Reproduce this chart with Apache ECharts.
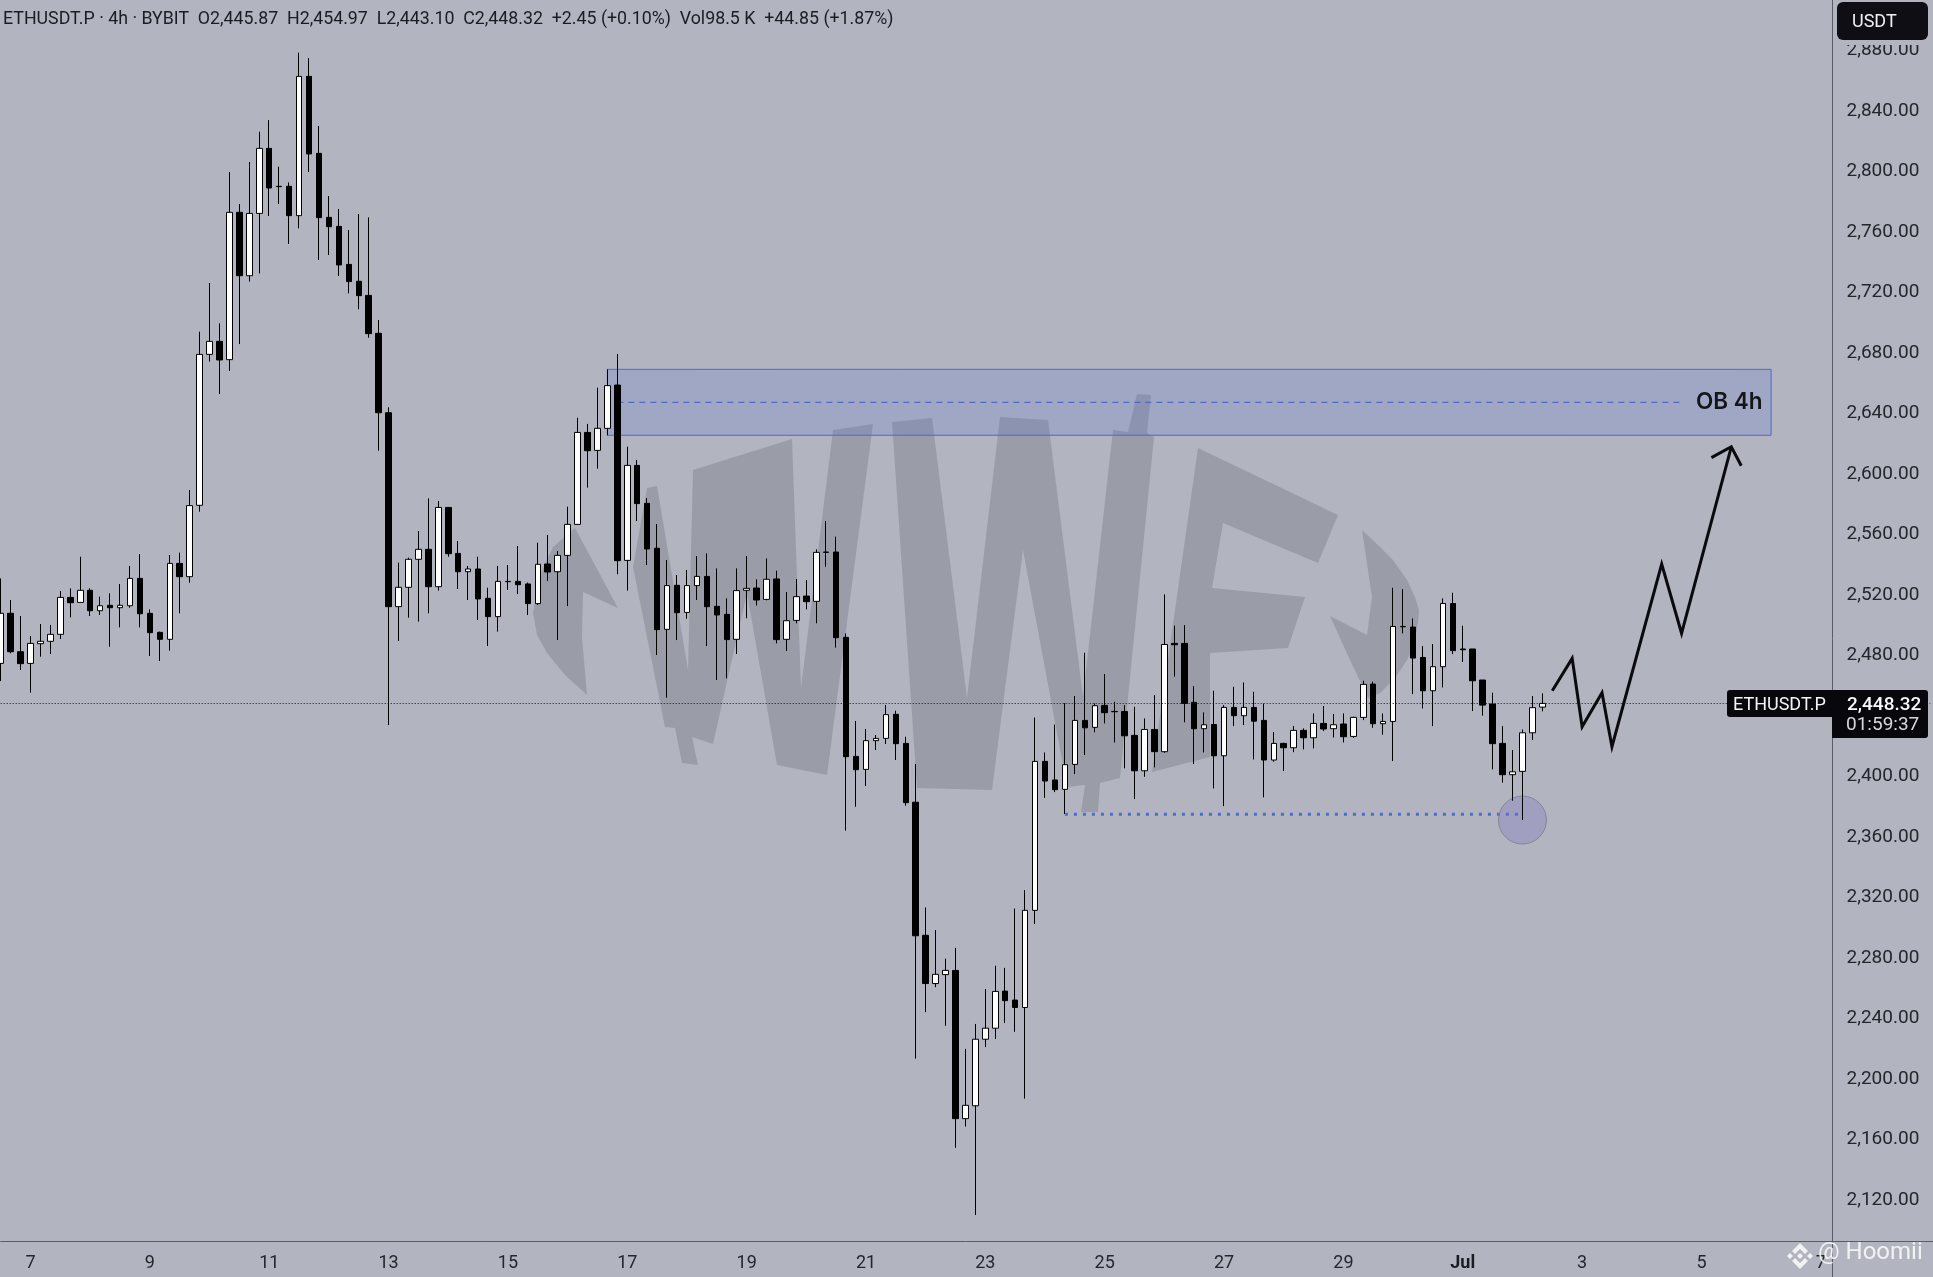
<!DOCTYPE html>
<html><head><meta charset="utf-8">
<style>html,body{margin:0;padding:0;background:#b2b5bf}#c{width:1933px;height:1277px}</style>
<script src="https://cdn.jsdelivr.net/npm/echarts@6/dist/echarts.min.js"></script>
</head><body><div id="c"></div>
<script>
const opens=[2474.8,2507.9,2482.5,2474.8,2487.8,2489.4,2494.0,2518.4,2515.1,2523.1,
2509.6,2513.2,2511.6,2512.9,2531.0,2507.9,2495.3,2490.7,2540.9,2532.1,
2579.3,2679.1,2687.7,2675.6,2773.0,2731.1,2772.3,2815.3,2790.2,2790.2,
2770.8,2862.9,2812.0,2769.7,2763.7,2738.6,2727.4,2718.1,2693.0,2640.5,
2512.3,2525.1,2543.6,2550.2,2525.5,2577.9,2547.5,2535.4,2537.2,2517.8,
2505.7,2529.0,2529.0,2527.3,2514.3,2540.5,2535.4,2546.2,2566.7,2627.5,
2615.6,2630.2,2658.8,2542.9,2605.7,2580.6,2550.9,2497.3,2526.4,2508.5,
2526.2,2532.3,2512.5,2507.2,2490.7,2523.1,2524.6,2517.1,2530.6,2490.7,
2503.2,2519.3,2515.8,2548.4,2548.4,2492.0,2413.3,2404.7,2423.7,2425.2,
2441.1,2421.9,2383.0,2295.0,2263.1,2269.0,2271.8,2173.8,2182.3,2226.3,
2233.6,2258.1,2252.2,2247.3,2311.5,2410.0,2397.7,2391.5,2408.0,2437.1,
2432.5,2447.0,2443.0,2443.0,2427.2,2403.8,2431.1,2416.4,2488.0,2488.0,
2449.0,2431.6,2434.4,2413.7,2445.7,2440.2,2445.7,2437.1,2410.9,2421.9,
2419.0,2430.5,2425.6,2435.1,2431.6,2434.7,2426.5,2439.1,2461.1,2434.9,
2436.4,2499.2,2498.8,2478.7,2456.7,2472.6,2514.4,2484.3,2484.3,2463.8,
2447.9,2421.9,2401.2,2403.4,2428.9,2445.87];
const closes=[2507.9,2482.5,2474.6,2488.0,2489.4,2494.0,2518.4,2514.9,2523.1,2509.6,
2512.9,2511.6,2513.2,2531.0,2507.6,2495.1,2490.7,2540.9,2532.1,2579.1,
2679.1,2687.7,2675.4,2773.0,2731.1,2772.3,2815.3,2789.1,2790.0,2770.8,
2862.9,2811.6,2769.5,2763.5,2738.2,2727.2,2717.9,2692.8,2640.5,2512.3,
2525.1,2543.6,2550.2,2525.5,2577.9,2547.3,2535.4,2537.2,2517.4,2505.7,
2529.0,2528.8,2526.8,2514.3,2540.3,2535.2,2546.2,2566.7,2627.5,2615.4,
2630.2,2658.4,2542.7,2605.7,2580.4,2550.4,2497.1,2526.2,2508.3,2526.2,
2532.3,2512.3,2506.8,2490.5,2522.9,2524.4,2516.7,2530.4,2490.5,2503.0,
2518.9,2515.6,2548.2,2548.2,2491.8,2413.1,2404.5,2423.7,2425.2,2440.9,
2421.7,2382.7,2294.7,2263.1,2269.2,2271.8,2173.8,2182.6,2226.3,2233.6,
2257.9,2251.8,2247.3,2311.5,2410.0,2397.0,2391.3,2407.8,2437.1,2432.2,
2446.8,2442.2,2442.8,2426.9,2403.8,2431.1,2416.4,2487.3,2487.1,2448.3,
2431.6,2434.2,2413.7,2445.7,2440.2,2445.7,2436.6,2410.9,2421.9,2419.0,
2430.5,2425.6,2435.1,2431.4,2434.2,2426.3,2439.1,2460.9,2434.9,2436.4,
2499.2,2499.0,2478.3,2456.7,2472.6,2514.4,2483.2,2483.8,2463.3,2447.2,
2421.7,2401.2,2403.1,2428.9,2445.5,2448.32];
const lows=[2463.1,2481.4,2470.4,2455.4,2479.2,2481.0,2490.9,2505.2,2515.1,2506.1,
2506.8,2485.8,2498.6,2511.6,2498.6,2479.7,2476.4,2483.2,2507.9,2528.1,
2575.1,2674.3,2652.9,2668.1,2685.9,2727.2,2732.6,2770.6,2778.5,2752.1,
2762.4,2799.7,2741.5,2744.8,2730.9,2719.4,2708.9,2690.1,2615.4,2434.0,
2489.6,2505.0,2502.4,2507.9,2522.9,2545.3,2524.0,2516.7,2503.5,2486.3,
2495.8,2523.3,2520.6,2506.8,2513.5,2529.2,2490.2,2512.7,2566.5,2591.0,
2603.5,2625.6,2533.7,2522.9,2568.9,2539.8,2480.3,2452.1,2490.2,2504.3,
2516.7,2486.3,2463.8,2464.9,2481.0,2504.6,2513.0,2516.5,2488.0,2483.0,
2501.3,2510.5,2501.3,2538.7,2485.2,2364.2,2380.0,2393.7,2417.5,2421.5,
2410.9,2380.7,2213.5,2244.2,2260.7,2235.2,2154.5,2168.6,2110.1,2221.1,
2226.5,2237.1,2231.2,2187.0,2302.5,2385.9,2389.7,2375.2,2401.6,2414.2,
2429.2,2435.1,2422.5,2405.4,2385.1,2399.8,2406.0,2415.7,2466.0,2435.8,
2408.2,2415.9,2392.1,2380.4,2433.3,2434.0,2411.3,2386.2,2409.8,2403.6,
2416.1,2417.9,2418.6,2430.0,2425.8,2422.5,2425.6,2437.3,2432.2,2427.6,
2410.2,2494.6,2454.5,2445.0,2433.3,2458.9,2480.9,2475.7,2443.3,2440.2,
2404.7,2395.9,2384.0,2371.2,2424.1,2443.10];
const highs=[2531.0,2516.7,2506.1,2492.9,2500.8,2500.2,2522.6,2524.4,2545.3,2524.4,
2518.9,2521.1,2527.3,2539.2,2547.1,2510.5,2495.8,2546.4,2548.0,2589.4,
2694.1,2726.3,2699.6,2799.7,2778.5,2806.3,2826.3,2834.0,2803.2,2792.8,
2878.6,2875.0,2830.1,2783.8,2775.2,2761.3,2771.9,2769.7,2701.8,2644.1,
2541.4,2544.7,2562.3,2583.9,2582.2,2577.9,2555.7,2539.2,2545.3,2524.8,
2539.2,2539.8,2552.4,2528.2,2554.6,2559.7,2549.1,2578.4,2637.2,2633.1,
2657.1,2669.2,2679.3,2618.1,2609.3,2584.1,2566.9,2543.1,2533.2,2536.5,
2545.8,2547.5,2537.6,2517.8,2537.6,2545.8,2530.4,2544.2,2536.1,2522.0,
2530.6,2529.9,2550.2,2568.9,2558.6,2494.6,2436.7,2431.4,2427.4,2447.3,
2443.5,2426.3,2408.3,2313.4,2298.5,2279.6,2286.7,2219.9,2236.4,2259.5,
2274.9,2273.5,2312.7,2324.9,2439.0,2415.9,2434.3,2448.5,2453.2,2481.8,
2448.3,2467.7,2449.4,2447.2,2446.1,2438.4,2453.8,2520.4,2499.7,2500.1,
2459.8,2442.4,2456.7,2447.2,2459.3,2462.2,2456.0,2448.3,2429.4,2422.3,
2433.3,2431.8,2441.7,2446.6,2441.3,2441.7,2439.5,2463.3,2462.7,2441.7,
2524.8,2523.9,2504.5,2486.2,2487.6,2517.8,2521.5,2499.7,2484.3,2463.8,
2455.4,2433.3,2417.5,2431.1,2453.2,2454.97];
const yTicks=[2120,2160,2200,2240,2280,2320,2360,2400,2440,2480,2520,2560,2600,2640,2680,2720,2760,2800,2840,2880];
const dateTickBars=[3,15,27,39,51,63,75,87,99,111,123,135,147,159,171,183];
const dateTickLabels=['7','9','11','13','15','17','19','21','23','25','27','29','Jul','3','5','7'];
const forecastPath=[[156,2456.7],[158,2478.1],[159,2432.9],[161,2455.4],[162,2419.7],[167,2540.5],[169,2494.7],[174,2618.0]];
const arrowHead=[[172,2610.8],[174,2618.0],[175,2605.5]];
const obTop=2669.2, obBottom=2625.6, obMid=2647.4, obFrom=61, obTo=178;
const sweepLevel=2375.0, lastPrice=2448.32;
const slotCount=195;
const categories=Array.from({length:slotCount},(_,i)=>String(i));
const ohlc=opens.map((o,i)=>[o,closes[i],lows[i],highs[i]]);

const logoFill='#9a9da7';
const logoShapes=[
 [[575,528],[618,608],[583,592],[582,637],[587,695],[565,675],[547,653],[537,635],[533,613],[540,575],[553,547]],
 [[647,488],[657,486],[688,670],[693,470],[792,439],[801,688],[833,430],[873,424],[827,775],[777,765],[747,593],[713,744],[692,737],[698,765],[682,763],[675,728],[665,727],[633,567]],
 [[892,422],[932,418],[967,698],[1000,417],[1048,420],[1083,697],[1113,430],[1128,432],[1137,394],[1151,395],[1147,433],[1154,437],[1120,778],[1100,783],[1098,812],[1081,812],[1085,785],[1067,787],[1023,550],[992,790],[917,788]],
 [[1198,448],[1338,515],[1318,563],[1223,523],[1212,588],[1305,597],[1288,648],[1210,653],[1210,757],[1152,772]],
 [[1362,530],[1380,547],[1393,560],[1407,580],[1415,597],[1419,610],[1418,623],[1414,645],[1407,660],[1395,678],[1380,693],[1368,698],[1350,660],[1330,616],[1367,635],[1372,597]]
];
const cx=1800, cy=1256;
const binance=[
 [[0,-13],[8,-5],[5,-2],[0,-7],[-5,-2],[-8,-5]],
 [[0,13],[8,5],[5,2],[0,7],[-5,2],[-8,5]],
 [[-13,0],[-10,-3],[-7,0],[-10,3]],
 [[13,0],[10,-3],[7,0],[10,3]],
 [[0,-3],[3,0],[0,3],[-3,0]]
];
const font='Roboto';
const graphics=[
 ...logoShapes.map(p=>({type:'polygon',z:0,silent:true,shape:{points:p},style:{fill:logoFill}})),
 {type:'rect',z:0,shape:{x:1930,y:1241,width:3,height:1},style:{fill:'#5a5d66'}},
 {type:'rect',z:90,shape:{x:1835,y:40,width:95,height:5},style:{fill:'#b2b5bf'}},
 {type:'rect',z:100,shape:{x:1837,y:2,width:91,height:38,r:6},style:{fill:'#0e0e14'}},
 {type:'text',z:101,style:{x:1852,y:22,text:'USDT',fill:'#f0f0f4',font:'18px '+font,textVerticalAlign:'middle'}},
 {type:'rect',z:100,shape:{x:1727,y:690,width:105,height:27,r:[3,0,0,3]},style:{fill:'#08080c'}},
 {type:'text',z:101,style:{x:1733,y:705,text:'ETHUSDT.P',fill:'#f4f4f6',font:'18px '+font,textVerticalAlign:'middle'}},
 {type:'rect',z:100,shape:{x:1832,y:690,width:96,height:48,r:[0,3,3,0]},style:{fill:'#08080c'}},
 {type:'text',z:101,style:{x:1847,y:705,text:'2,448.32',fill:'#f8f8fa',font:'500 19px '+font,textVerticalAlign:'middle'}},
 {type:'text',z:101,style:{x:1846,y:725,text:'01:59:37',fill:'#d8d8dc',font:'19px '+font,textVerticalAlign:'middle'}},
 ...binance.map(p=>({type:'polygon',z:105,silent:true,shape:{points:p.map(q=>[cx+q[0],cy+q[1]])},style:{fill:'rgba(248,248,250,0.9)'}})),
 {type:'text',z:105,style:{x:1818,y:1253,text:'@ Hoomii',fill:'rgba(248,248,250,0.9)',font:'400 24px '+font,textVerticalAlign:'middle'}}
];

const chart=echarts.init(document.getElementById('c'),null,{renderer:'canvas'});
chart.setOption({
 animation:false,
 backgroundColor:'#b2b5bf',
 title:{text:'ETHUSDT.P · 4h · BYBIT  O2,445.87  H2,454.97  L2,443.10  C2,448.32  +2.45 (+0.10%)  Vol98.5 K  +44.85 (+1.87%)',
   left:3,top:11,padding:0,textStyle:{fontFamily:font,fontSize:17.8,fontWeight:400,color:'#1b1c22'}},
 grid:{left:0.7,top:0,width:9.946*(slotCount-1),height:1277},
 xAxis:{type:'category',data:categories,boundaryGap:false,position:'bottom',offset:-35.5,
   axisLine:{onZero:false,lineStyle:{color:'#5a5d66',width:1}},axisTick:{show:false},splitLine:{show:false},
   axisLabel:{margin:13,fontFamily:font,fontSize:18,color:'#25262c',hideOverlap:false,
     interval:(i)=>dateTickBars.includes(i),
     formatter:(v,i)=>{const t=dateTickLabels[dateTickBars.indexOf(i)];return t==='Jul'?'{b|Jul}':(t||'');},
     rich:{b:{fontFamily:font,fontSize:18,fontWeight:700,color:'#1b1c22'}}}},
 yAxis:{type:'value',min:2069.09,max:2913.39,position:'right',offset:-97.7,scale:true,
   axisLine:{show:true,onZero:false,lineStyle:{color:'#5a5d66',width:1}},axisTick:{show:false},splitLine:{show:false},
   axisLabel:{margin:14,fontFamily:font,fontSize:19,color:'#25262c',showMinLabel:true,showMaxLabel:true,
     customValues:yTicks,
     formatter:v=>v.toLocaleString('en-US',{minimumFractionDigits:2,maximumFractionDigits:2})}},
 graphic:graphics,
 series:[
  {name:'OB 4h mid',type:'line',z:1,data:[[62,obMid],[169,obMid]],showSymbol:false,silent:true,
   lineStyle:{color:'#3f5cc8',width:1,type:[6,5]},
   markArea:{silent:true,itemStyle:{color:'rgba(70,100,225,0.17)',borderColor:'#4a6ad8',borderWidth:1},
     label:{show:true,position:'insideRight',distance:9,formatter:'OB 4h',fontFamily:'Inter',fontSize:22.5,fontWeight:600,color:'#14151a'},
     data:[[{xAxis:obFrom,yAxis:obTop},{xAxis:obTo,yAxis:obBottom}]]},
   markLine:{silent:true,symbol:'none',label:{show:false},lineStyle:{color:'#111',width:1,type:[1,2]},data:[{yAxis:lastPrice}],animation:false}},
  {name:'sweep zone',type:'scatter',z:1,data:[[153,2371.2]],symbolSize:48,silent:true,
   itemStyle:{color:'rgba(125,115,195,0.42)',borderColor:'#7c7c8c',borderWidth:1}},
  {name:'sweep level',type:'line',z:1,data:[[107,sweepLevel],[153,sweepLevel]],showSymbol:false,silent:true,
   lineStyle:{color:'#4a6cd6',width:3,type:[3,6]}},
  {name:'ETHUSDT.P',type:'candlestick',z:2,data:ohlc,barWidth:6,clip:false,
   itemStyle:{color:'#ffffff',color0:'#000000',borderColor:'#000000',borderColor0:'#000000',borderColorDoji:'#000000',borderWidth:1}},
  {name:'forecast',type:'line',z:3,data:forecastPath,showSymbol:false,silent:true,lineStyle:{color:'#0b0b0f',width:3,join:'miter'}},
  {name:'forecast head',type:'line',z:3,data:arrowHead,showSymbol:false,silent:true,lineStyle:{color:'#0b0b0f',width:3,join:'miter'}}
 ]
});
</script></body></html>
